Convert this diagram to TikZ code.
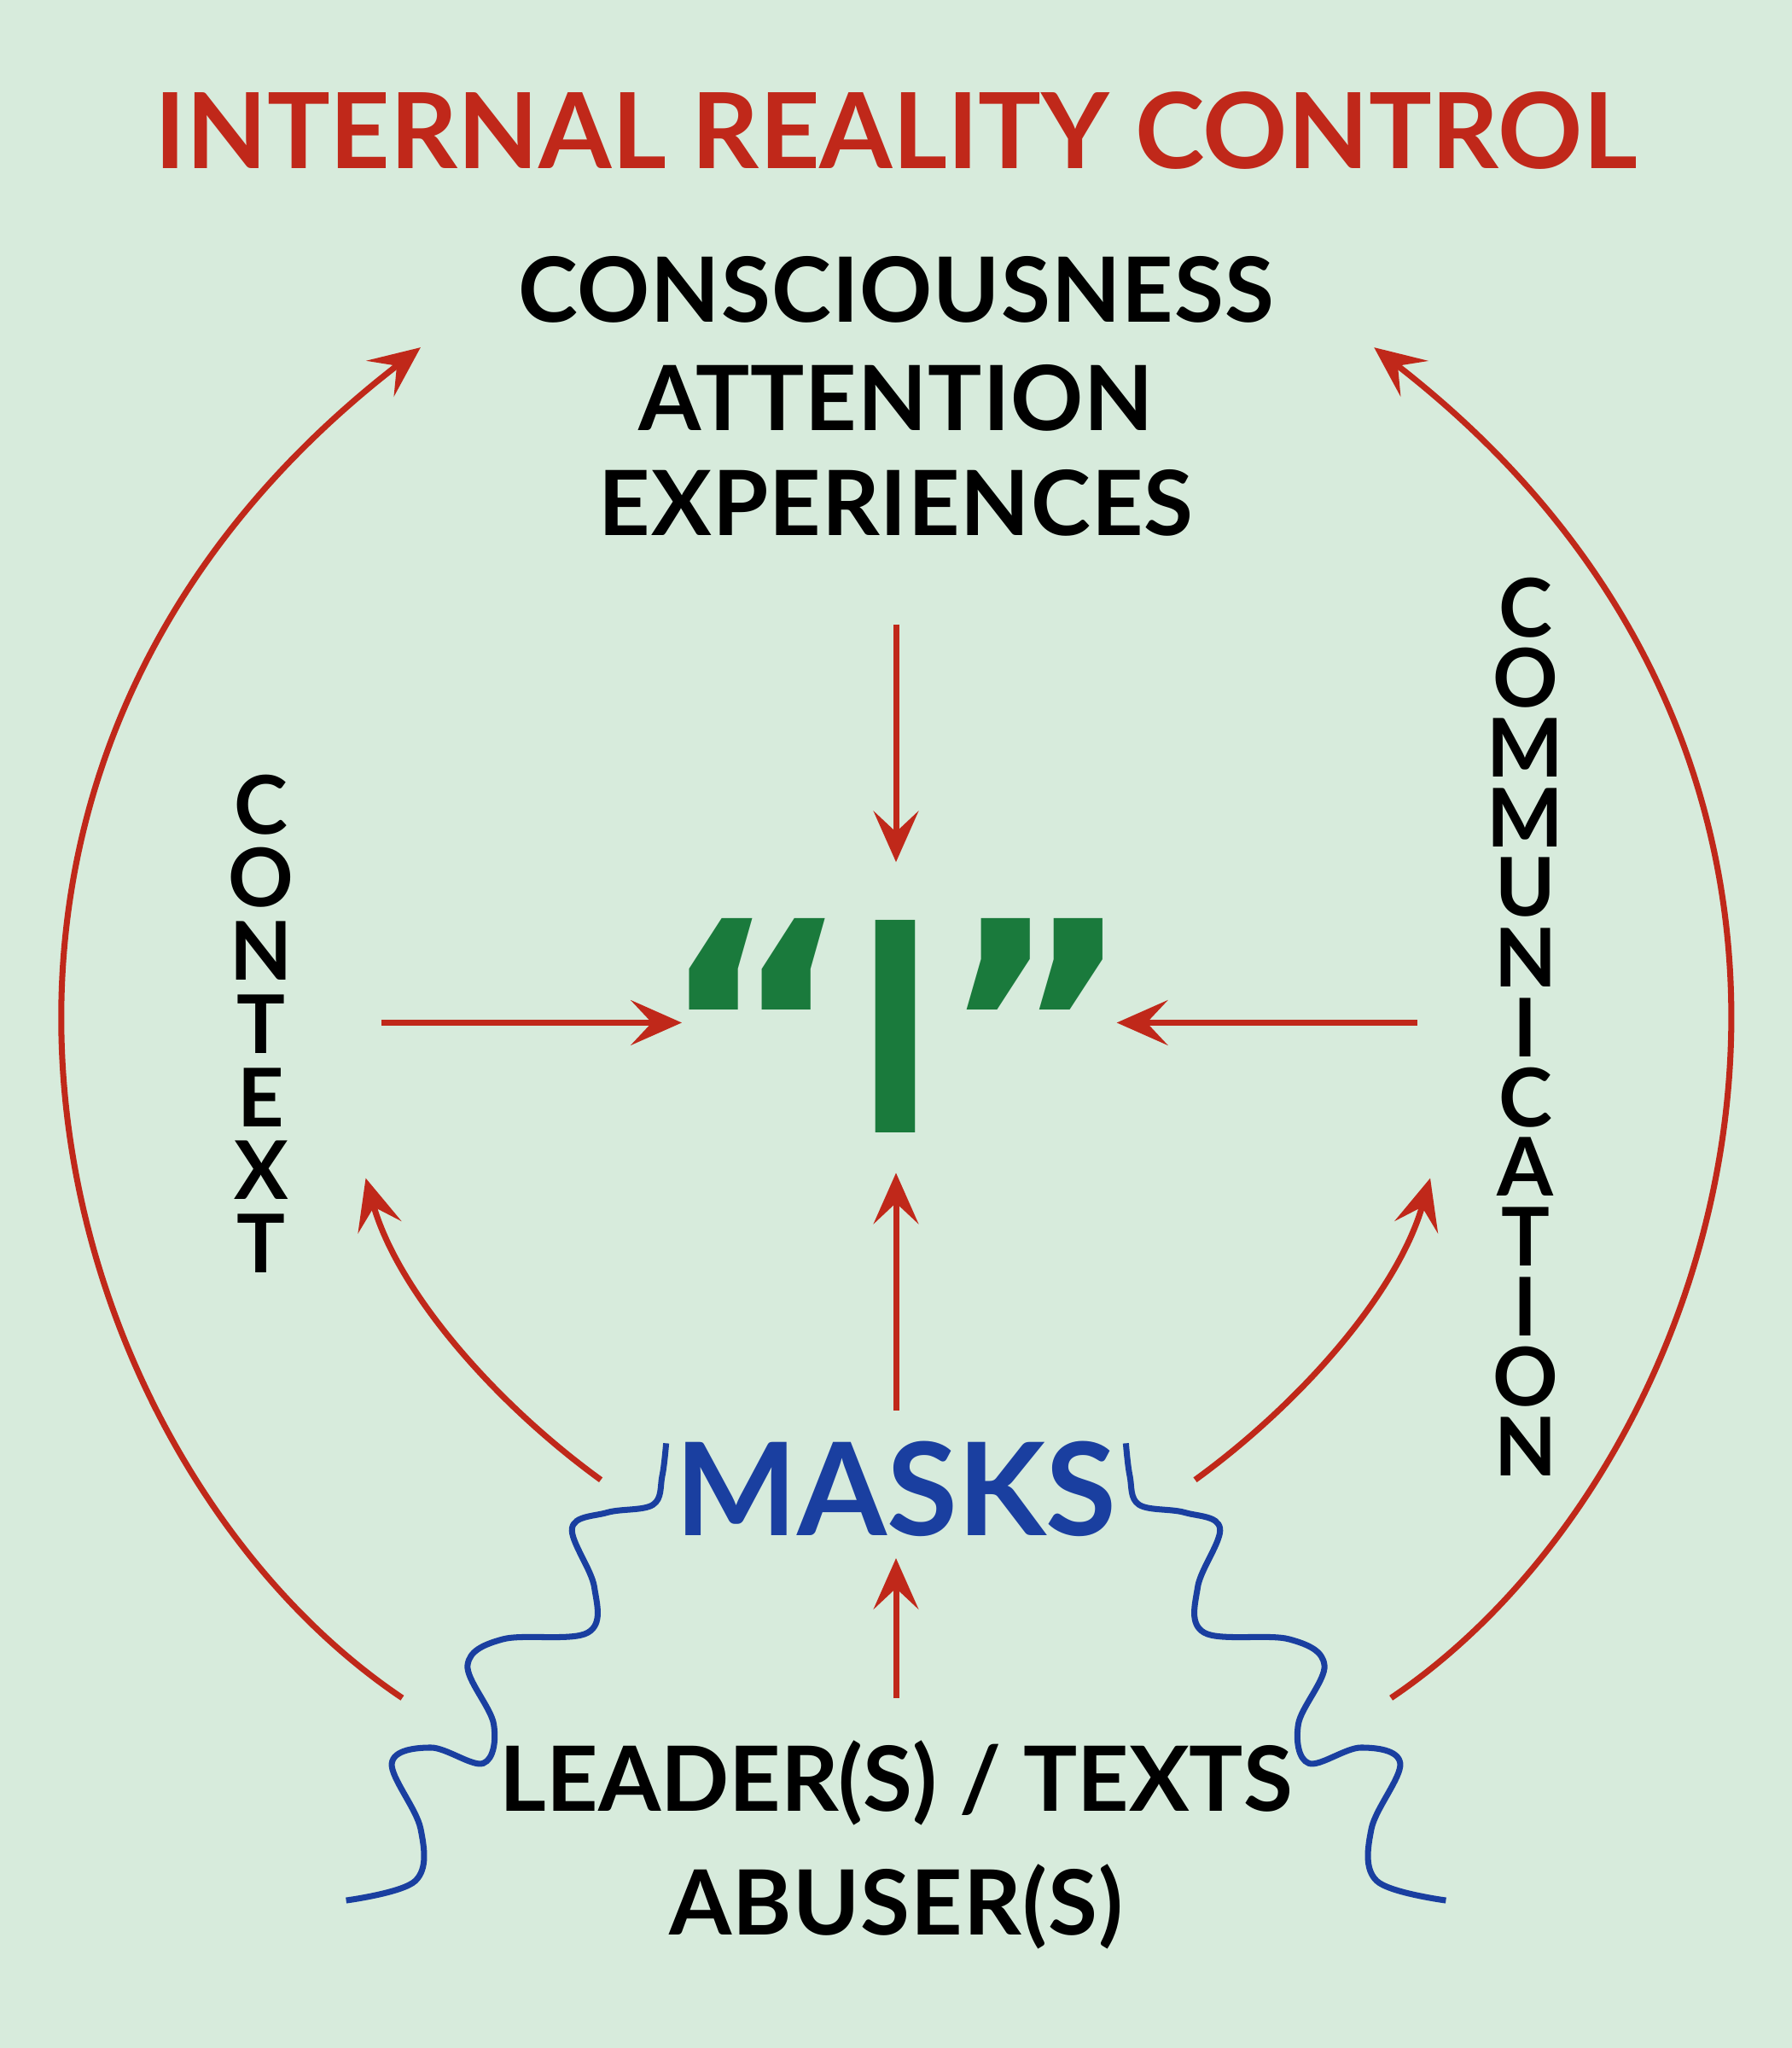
\documentclass[tikz,border=0pt]{standalone}
\usepackage{fontspec}
\setmainfont{Lato}
\newfontfamily\qfont{DejaVu Sans}
\usetikzlibrary{arrows.meta}
\definecolor{bg}{HTML}{D7EBDC}
\definecolor{rd}{HTML}{C0281A}
\definecolor{gr}{HTML}{1A7A3C}
\definecolor{bl}{HTML}{1A3FA0}
\tikzset{
 arr/.style={draw=rd,line width=2pt,-{Stealth[length=17pt,width=15pt,inset=7pt]}},
 wav/.style={draw=bl,line width=2pt},
 head/.style={font=\fontsize{30}{36}\selectfont\bfseries\addfontfeatures{LetterSpace=1}},
 vlet/.style={font=\fontsize{27}{28}\selectfont\bfseries,inner sep=0pt}
}
\begin{document}
\begin{tikzpicture}[x=0.015306cm,y=-0.015306cm]
\fill[bg] (0,0) rectangle (1372,1568);
\useasboundingbox (0,0) rectangle (1372,1568);
\node[text=rd,font=\fontsize{35}{40}\selectfont\bfseries] (title) at (686,100) {INTERNAL REALITY CONTROL};
\node[head] (c1) at (686,222) {CONSCIOUSNESS};
\node[head] (c2) at (686,305) {ATTENTION};
\node[head] (c3) at (686,385) {EXPERIENCES};
\node[text=gr,font=\fontsize{98}{100}\selectfont\bfseries] (I) at (686,785) {{\qfont “}I{\qfont ”}};
\node[text=bl,font=\fontsize{43}{46}\selectfont\bfseries] (masks) at (686,1140) {MASKS};
\node[font=\fontsize{30}{36}\selectfont\bfseries] (lead) at (686,1365) {LEADER(S) / TEXTS};
\node[head] (ab) at (686,1460) {ABUSER(S)};
\foreach \l [count=\i] in {C,O,N,T,E,X,T}
  \node[vlet] (ctx\i) at (200,560+\i*56) {\l};
\foreach \l [count=\i] in {C,O,M,M,U,N,I,C,A,T,I,O,N}
  \node[vlet] (com\i) at (1168,412+\i*53.5) {\l};
\coordinate (a1) at (686,478); \coordinate (a2) at (686,660);
\draw[arr] (a1) -- (a2);
\coordinate (b1) at (292,783); \coordinate (b2) at (522,783);
\draw[arr] (b1) -- (b2);
\coordinate (d1) at (1085,783); \coordinate (d2) at (855,783);
\draw[arr] (d1) -- (d2);
\coordinate (e1) at (686,1080); \coordinate (e2) at (686,898);
\draw[arr] (e1) -- (e2);
\coordinate (f1) at (686,1300); \coordinate (f2) at (686,1193);
\draw[arr] (f1) -- (f2);
\coordinate (g1) at (460,1133); \coordinate (g2) at (280,902);
\draw[arr] (g1) .. controls (380,1075) and (305,990) .. (g2);
\coordinate (h1) at (915,1133); \coordinate (h2) at (1095,902);
\draw[arr] (h1) .. controls (995,1075) and (1070,990) .. (h2);
\coordinate (k1) at (308,1300); \coordinate (k2) at (322,266);
\draw[arr] (k1) .. controls (40,1120) and (-111,600) .. (k2);
\coordinate (m1) at (1065,1300); \coordinate (m2) at (1052,266);
\draw[arr] (m1) .. controls (1332,1120) and (1483,600) .. (m2);
\draw[wav] plot[smooth,tension=0.6] coordinates {(265,1455)(318,1440)(322,1400)(300,1350)(330,1338)(370,1350)(378,1320)(358,1275)(385,1255)(450,1250)(455,1215)(438,1170)(465,1158)(500,1152)(507,1130)(510,1105)};
\draw[wav] plot[smooth,tension=0.6] coordinates {(1107,1455)(1054,1440)(1050,1400)(1072,1350)(1042,1338)(1002,1350)(994,1320)(1014,1275)(987,1255)(922,1250)(917,1215)(934,1170)(907,1158)(872,1152)(865,1130)(862,1105)};
\end{tikzpicture}
\end{document}
